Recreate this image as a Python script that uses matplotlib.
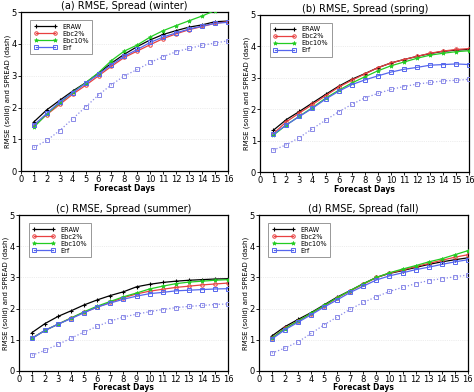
import matplotlib
matplotlib.use('Agg')
import matplotlib.pyplot as plt
import numpy as np

days = np.arange(1, 17)

titles = ['(a) RMSE, Spread (winter)', '(b) RMSE, Spread (spring)',
          '(c) RMSE, Spread (summer)', '(d) RMSE, Spread (fall)']
labels = ['ERAW', 'Ebc2%', 'Ebc10%', 'Erf']

# winter
eraw_a = [1.55, 1.93, 2.23, 2.52, 2.78, 3.08, 3.40, 3.68, 3.92, 4.13, 4.30, 4.42, 4.53, 4.60, 4.70, 4.72]
ebc2_a = [1.42, 1.78, 2.10, 2.42, 2.70, 3.00, 3.30, 3.58, 3.78, 3.98, 4.17, 4.32, 4.45, 4.55, 4.65, 4.70]
ebc10_a = [1.38, 1.80, 2.15, 2.48, 2.78, 3.10, 3.48, 3.78, 3.97, 4.22, 4.42, 4.58, 4.73, 4.88, 5.05, 5.20]
erf_a = [1.45, 1.82, 2.18, 2.47, 2.76, 3.05, 3.35, 3.62, 3.83, 4.05, 4.22, 4.35, 4.47, 4.56, 4.65, 4.68]
spr_a = [0.75, 0.97, 1.28, 1.65, 2.02, 2.40, 2.72, 3.00, 3.20, 3.42, 3.60, 3.76, 3.86, 3.96, 4.03, 4.10]

# spring
eraw_b = [1.33, 1.67, 1.93, 2.20, 2.47, 2.73, 2.95, 3.13, 3.32, 3.47, 3.58, 3.68, 3.77, 3.84, 3.88, 3.90]
ebc2_b = [1.22, 1.60, 1.88, 2.15, 2.43, 2.70, 2.92, 3.12, 3.32, 3.47, 3.58, 3.68, 3.78, 3.85, 3.90, 3.93]
ebc10_b = [1.17, 1.50, 1.78, 2.05, 2.35, 2.60, 2.83, 3.03, 3.22, 3.38, 3.50, 3.62, 3.72, 3.78, 3.83, 3.86]
erf_b = [1.20, 1.50, 1.77, 2.03, 2.32, 2.57, 2.78, 2.93, 3.06, 3.18, 3.27, 3.33, 3.40, 3.42, 3.44, 3.42]
spr_b = [0.70, 0.87, 1.10, 1.38, 1.65, 1.92, 2.15, 2.36, 2.50, 2.63, 2.72, 2.80, 2.85, 2.90, 2.92, 2.95]

# summer
eraw_c = [1.23, 1.52, 1.75, 1.93, 2.12, 2.28, 2.42, 2.54, 2.70, 2.78, 2.84, 2.88, 2.91, 2.93, 2.95, 2.96]
ebc2_c = [1.05, 1.30, 1.50, 1.70, 1.88, 2.05, 2.20, 2.35, 2.47, 2.56, 2.62, 2.68, 2.72, 2.76, 2.79, 2.82]
ebc10_c = [1.05, 1.30, 1.50, 1.70, 1.90, 2.08, 2.23, 2.38, 2.50, 2.63, 2.72, 2.80, 2.85, 2.88, 2.91, 2.93]
erf_c = [1.04, 1.30, 1.50, 1.68, 1.87, 2.05, 2.18, 2.30, 2.40, 2.48, 2.52, 2.57, 2.59, 2.61, 2.63, 2.64]
spr_c = [0.50, 0.66, 0.85, 1.05, 1.25, 1.43, 1.60, 1.73, 1.82, 1.90, 1.97, 2.03, 2.07, 2.10, 2.13, 2.15]

# fall
eraw_d = [1.12, 1.42, 1.65, 1.87, 2.12, 2.37, 2.58, 2.80, 3.00, 3.13, 3.22, 3.32, 3.42, 3.50, 3.57, 3.63]
ebc2_d = [1.05, 1.37, 1.60, 1.84, 2.08, 2.34, 2.57, 2.78, 3.00, 3.14, 3.24, 3.35, 3.45, 3.55, 3.65, 3.73]
ebc10_d = [1.05, 1.36, 1.60, 1.85, 2.10, 2.35, 2.58, 2.80, 3.00, 3.15, 3.27, 3.38, 3.50, 3.60, 3.73, 3.86]
erf_d = [1.02, 1.32, 1.56, 1.80, 2.05, 2.28, 2.52, 2.72, 2.92, 3.05, 3.15, 3.25, 3.33, 3.42, 3.50, 3.57]
spr_d = [0.57, 0.73, 0.93, 1.20, 1.48, 1.73, 1.98, 2.20, 2.38, 2.55, 2.68, 2.80, 2.90, 2.96, 3.02, 3.08]

panels = [
    (eraw_a, ebc2_a, ebc10_a, erf_a, spr_a),
    (eraw_b, ebc2_b, ebc10_b, erf_b, spr_b),
    (eraw_c, ebc2_c, ebc10_c, erf_c, spr_c),
    (eraw_d, ebc2_d, ebc10_d, erf_d, spr_d),
]

# axes boxes [left, bottom, width, height]
boxes = [[0.044, 0.563, 0.437, 0.406],
         [0.549, 0.561, 0.441, 0.401],
         [0.040, 0.054, 0.441, 0.397],
         [0.546, 0.054, 0.441, 0.397]]

styles = [
    dict(color='black', marker='+', ms=3, mew=0.8),
    dict(color='#e84040', marker='o', ms=2.5, mfc='none', mew=0.7),
    dict(color='#22cc22', marker='*', ms=3, mew=0.5),
    dict(color='#5566ee', marker='s', ms=2.5, mfc='none', mew=0.7),
]

fig = plt.figure(figsize=(4.74, 3.92), dpi=100)

for i, (box, title, data) in enumerate(zip(boxes, titles, panels)):
    ax = fig.add_axes(box)
    for j in range(4):
        ax.plot(days, data[j], lw=0.9, label=labels[j], zorder=3, **styles[j])
    ax.plot(days, data[4], color='#8a8ae8', ls=':', lw=0.9, marker='s', ms=2.5,
            mfc='none', mew=0.7, zorder=3)
    ax.set_xlim(0, 16)
    ax.set_ylim(0, 5)
    ax.set_xticks(range(0, 17))
    ax.set_yticks(range(0, 6))
    for yy in [1, 2, 3, 4]:
        ax.axhline(yy, color='#dddddd', lw=0.5, ls=':', zorder=1)
    ax.tick_params(labelsize=6, length=2, width=0.6, pad=1)
    for s in ax.spines.values():
        s.set_linewidth(0.9)
    ax.set_title(title, fontsize=7, pad=2)
    ax.set_xlabel('Forecast Days', fontsize=5.5, fontweight='bold', labelpad=-0.5)
    ax.set_ylabel('RMSE (solid) and SPREAD (dash)', fontsize=5, labelpad=0.5)
    leg = ax.legend(loc='upper left', bbox_to_anchor=(0.03, 0.97), fontsize=4.8,
                    numpoints=2, handlelength=3.5, handletextpad=0.8,
                    labelspacing=0.15, borderpad=0.5, fancybox=False, framealpha=1)
    leg.get_frame().set_edgecolor('#888888')
    leg.get_frame().set_linewidth(0.6)

plt.savefig('out.png', dpi=100)
